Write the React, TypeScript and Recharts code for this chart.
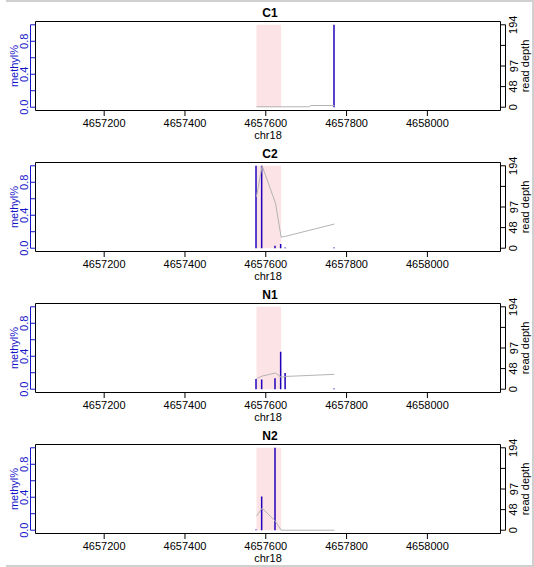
import React from "react";
import { ComposedChart, Bar, Line, XAxis, YAxis, ReferenceArea } from "recharts";

// CpG positions on chr18 and per-sample values
const cpgPositions = [4657577, 4657591, 4657624, 4657638, 4657649, 4657770];
const c1Positions = [4657577, 4657706, 4657712, 4657770];
const c1Methyl = [0, 0, 0, 1.0];
const c1Depth = [1, 1, 4, 4];
const c2Methyl = [1.0, 1.0, 0.03, 0.05, 0.01, 0.01];
const c2Depth = [121, 194, 106, 26, 28, 57];
const n1Methyl = [0.125, 0.117, 0.134, 0.453, 0.198, 0.01];
const n1Depth = [25, 31, 38, 28, 30, 35];
const n2Methyl = [0.01, 0.41, 1.0, 0, 0, 0];
const n2Depth = [33, 52, 21, 0, 0, 0];

const regionStart = 4657577;
const regionEnd = 4657638;

const xTicks = [4657200, 4657400, 4657600, 4657800, 4658000];
const methylTicks = [0, 0.2, 0.4, 0.6, 0.8, 1.0];
const methylTickLabels = ["0.0", "", "0.4", "", "0.8", ""];
const depthTicks = [0, 48.5, 97, 145.5, 194];
const depthTickLabels = ["0", "48", "97", "", "194"];

const W = 534;
const H = 141;
const PLOT_TOP = 21.5;
const PLOT_H = 89;
const PLOT_LEFT = 35.5;
const PLOT_RIGHT = 500.5;
const FONT = "'Liberation Sans', Arial, sans-serif";
const BLUE = "#1414c8";
const BAR_BLUE = "#2200bb";

const X_DOMAIN = [4657030, 4658181];
const M_DOMAIN = [-0.04, 1.04];
const D_DOMAIN = [-7.76, 201.76];
const UNIT_H = PLOT_H / 1.08;

const MethylTick = (props: any) => {
  const { x, y, payload } = props;
  const i = methylTicks.indexOf(payload.value);
  const label = methylTickLabels[i];
  const ax = x - 5;
  const tx = x - 7.5;
  return (
    <g>
      <line x1={ax} y1={y} x2={x} y2={y} stroke={BLUE} />
      {payload.value === 0 && (
        <line x1={ax} y1={y} x2={ax} y2={y - UNIT_H} stroke={BLUE} />
      )}
      {label && (
        <text
          x={tx}
          y={y}
          transform={`rotate(-90 ${tx} ${y})`}
          textAnchor="middle"
          fontSize={11}
          fontFamily={FONT}
          fill={BLUE}
        >
          {label}
        </text>
      )}
    </g>
  );
};

const DepthTick = (props: any) => {
  const { x, y, payload } = props;
  const i = depthTicks.indexOf(payload.value);
  const label = depthTickLabels[i];
  const ax = x + 5;
  const tx = x + 17;
  return (
    <g>
      <line x1={x} y1={y} x2={ax} y2={y} stroke="#000" />
      {payload.value === 0 && (
        <line x1={ax} y1={y} x2={ax} y2={y - UNIT_H} stroke="#000" />
      )}
      {label && (
        <text
          x={tx}
          y={y}
          transform={`rotate(-90 ${tx} ${y})`}
          textAnchor="middle"
          fontSize={11}
          fontFamily={FONT}
          fill="#000"
        >
          {label}
        </text>
      )}
    </g>
  );
};

interface PanelProps {
  title: string;
  positions: number[];
  methyl: number[];
  depth: number[];
  top: number;
}

function Panel({ title, positions, methyl, depth, top }: PanelProps) {
  const data = positions.map((p, i) => ({ pos: p, methyl: methyl[i], depth: depth[i] }));
  const midY = PLOT_TOP + PLOT_H / 2;
  const bottom = PLOT_TOP + PLOT_H;
  return (
    <div style={{ position: "absolute", left: 0, top, width: W, height: H }}>
      <ComposedChart
        width={W}
        height={H}
        data={data}
        margin={{ top: PLOT_TOP, right: 0, bottom: 0, left: 0 }}
      >
        <XAxis
          dataKey="pos"
          type="number"
          domain={X_DOMAIN}
          ticks={xTicks}
          interval={0}
          allowDataOverflow
          height={H - PLOT_TOP - PLOT_H}
          axisLine={false}
          stroke="#000"
          tickSize={5.5}
          tickMargin={3}
          tick={{ fill: "#000", fontSize: 11, fontFamily: FONT }}
        />
        <YAxis
          yAxisId="m"
          width={PLOT_LEFT}
          domain={M_DOMAIN}
          ticks={methylTicks}
          interval={0}
          allowDataOverflow
          axisLine={false}
          tickLine={false}
          tickSize={0}
          tickMargin={0}
          tick={<MethylTick />}
        />
        <YAxis
          yAxisId="d"
          orientation="right"
          width={W - PLOT_RIGHT}
          domain={D_DOMAIN}
          ticks={depthTicks}
          interval={0}
          allowDataOverflow
          axisLine={false}
          tickLine={false}
          tickSize={0}
          tickMargin={0}
          tick={<DepthTick />}
        />
        <ReferenceArea
          yAxisId="m"
          x1={regionStart}
          x2={regionEnd}
          y1={0}
          y2={1}
          fill="#fce3e5"
          fillOpacity={1}
          stroke="none"
        />
        <Line
          yAxisId="d"
          dataKey="depth"
          type="linear"
          stroke="#b4b4b4"
          strokeWidth={1}
          dot={false}
          activeDot={false}
          connectNulls
          isAnimationActive={false}
        />
        <Bar
          yAxisId="m"
          dataKey="methyl"
          barSize={1.5}
          fill={BAR_BLUE}
          isAnimationActive={false}
        />
        {/* plot frame along the axis domain edges */}
        <ReferenceArea
          yAxisId="m"
          x1={X_DOMAIN[0]}
          x2={X_DOMAIN[1]}
          y1={M_DOMAIN[0]}
          y2={M_DOMAIN[1]}
          fill="none"
          fillOpacity={0}
          stroke="#000"
          strokeWidth={1}
          ifOverflow="visible"
        />
      </ComposedChart>
      <div
        style={{
          position: "absolute",
          left: 0,
          width: W,
          top: PLOT_TOP - 8.5 - 7,
          height: 14,
          lineHeight: "14px",
          textAlign: "center",
          fontFamily: FONT,
          fontWeight: "bold",
          fontSize: 12,
          color: "#000",
          paddingLeft: 3,
        }}
      >
        {title}
      </div>
      <div
        style={{
          position: "absolute",
          left: PLOT_LEFT,
          width: PLOT_RIGHT - PLOT_LEFT,
          top: bottom + 25 - 5.5,
          height: 11,
          lineHeight: "11px",
          textAlign: "center",
          fontFamily: FONT,
          fontSize: 11,
          color: "#000",
        }}
      >
        chr18
      </div>
      <div
        style={{
          position: "absolute",
          left: 14 - 40,
          width: 80,
          top: midY - 6,
          height: 12,
          lineHeight: "12px",
          textAlign: "center",
          fontFamily: FONT,
          fontSize: 11,
          color: BLUE,
          transform: "rotate(-90deg)",
        }}
      >
        methyl%
      </div>
      <div
        style={{
          position: "absolute",
          left: 525 - 40,
          width: 80,
          top: midY - 6,
          height: 12,
          lineHeight: "12px",
          textAlign: "center",
          fontFamily: FONT,
          fontSize: 11,
          color: "#000",
          transform: "rotate(-90deg)",
        }}
      >
        read depth
      </div>
    </div>
  );
}

export default function App() {
  return (
    <div
      style={{
        position: "absolute",
        left: 0,
        top: 0,
        width: W,
        height: 567,
        background: "#fff",
        overflow: "hidden",
      }}
    >
      <div
        style={{
          position: "absolute",
          left: 6,
          top: 0,
          width: 528,
          height: 567,
          boxSizing: "border-box",
          borderTop: "2px solid #d0d0d0",
          borderRight: "2px solid #d0d0d0",
          borderBottom: "2px solid #d0d0d0",
        }}
      />
      <Panel title="C1" positions={c1Positions} methyl={c1Methyl} depth={c1Depth} top={0} />
      <Panel title="C2" positions={cpgPositions} methyl={c2Methyl} depth={c2Depth} top={141} />
      <Panel title="N1" positions={cpgPositions} methyl={n1Methyl} depth={n1Depth} top={282} />
      <Panel title="N2" positions={cpgPositions} methyl={n2Methyl} depth={n2Depth} top={423} />
    </div>
  );
}
